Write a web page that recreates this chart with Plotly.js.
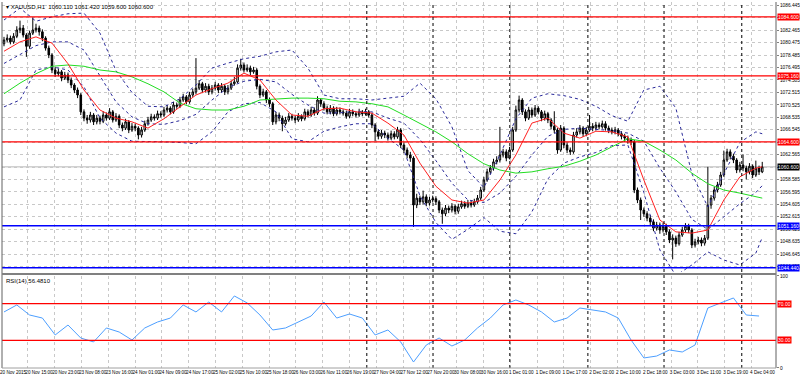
<!DOCTYPE html>
<html><head><meta charset="utf-8">
<script src="https://cdn.plot.ly/plotly-3.0.1.min.js"></script>
<style>html,body{margin:0;padding:0;background:#fff;}#chart{width:800px;height:376px;}</style>
</head><body><div id="chart"></div>
<script>
const chartTitle = "\u25BE XAUUSD,H1  1060.110 1061.420 1059.600 1060.600";
const rsiTitle = "RSI(14) 56.4810";

const timeLabels = ["20 Nov 2015","20 Nov 15:00","20 Nov 23:00","23 Nov 08:00","23 Nov 16:00","24 Nov 01:00","24 Nov 09:00","24 Nov 17:00","25 Nov 02:00","25 Nov 10:00","25 Nov 18:00","26 Nov 03:00","26 Nov 11:00","26 Nov 19:00","27 Nov 04:00","27 Nov 12:00","27 Nov 20:00","30 Nov 08:00","30 Nov 16:00","1 Dec 01:00","1 Dec 09:00","1 Dec 17:00","2 Dec 02:00","2 Dec 10:00","2 Dec 18:00","3 Dec 03:00","3 Dec 11:00","3 Dec 19:00","4 Dec 04:00"];

const priceTicks = [1086.445,1084.455,1082.465,1080.475,1078.485,1076.495,1074.505,1072.515,1070.525,1068.535,1066.545,1064.555,1062.565,1060.575,1058.585,1056.595,1054.605,1052.615,1050.625,1048.635,1046.645,1044.655];

const redLevels = [1084.60, 1075.16, 1064.60];
const blueLevels = [1051.16, 1044.44];
const rsiLevels = [70, 30];

const open = [1080.3,1080.9,1081.2,1080.6,1081.5,1082.5,1082.8,1081.7,1079.9,1082.0,
1082.5,1082.8,1082.2,1081.2,1079.6,1078.5,1076.1,1075.5,1075.8,1074.8,
1075.3,1074.5,1073.7,1072.9,1072.1,1069.4,1068.4,1068.1,1068.9,1067.8,
1068.4,1067.9,1068.9,1068.4,1069.4,1068.1,1068.7,1067.3,1066.8,1067.8,
1066.5,1067.1,1066.8,1065.7,1066.5,1067.5,1068.1,1068.6,1068.4,1069.1,
1068.9,1069.7,1070.0,1069.4,1070.5,1070.3,1071.3,1071.8,1071.0,1072.1,
1072.6,1073.2,1073.9,1072.9,1073.5,1072.6,1073.2,1073.7,1072.9,1073.5,
1072.6,1073.2,1073.9,1074.2,1076.4,1076.9,1076.1,1076.4,1075.8,1076.1,
1073.5,1072.1,1072.6,1071.3,1070.7,1067.8,1068.9,1068.4,1067.5,1068.1,
1068.7,1068.4,1068.1,1068.7,1068.3,1069.4,1068.9,1069.7,1069.2,1071.3,
1070.7,1070.0,1069.4,1070.0,1069.1,1069.7,1069.4,1069.2,1068.7,1069.4,
1069.1,1068.9,1069.4,1069.1,1069.4,1068.9,1067.3,1066.2,1065.5,1066.0,
1065.7,1065.2,1065.9,1065.4,1066.5,1064.1,1063.3,1062.5,1062.0,1054.5,
1055.6,1055.0,1055.8,1054.8,1055.3,1055.5,1055.0,1053.7,1053.1,1054.0,
1053.7,1054.3,1053.5,1054.2,1054.7,1054.3,1054.8,1054.5,1055.0,1055.6,
1056.9,1058.5,1059.8,1060.4,1061.4,1061.7,1062.5,1063.0,1062.0,1063.3,
1066.5,1069.7,1071.3,1069.4,1068.4,1069.7,1068.9,1070.0,1069.4,1068.4,
1069.1,1068.1,1067.1,1066.5,1063.3,1066.8,1064.1,1063.3,1063.0,1065.7,
1066.2,1066.8,1065.9,1066.5,1067.1,1066.8,1067.3,1067.0,1067.5,1066.8,
1066.5,1066.2,1066.5,1065.9,1065.5,1065.2,1064.9,1064.6,1056.9,1055.3,
1053.7,1053.1,1052.4,1051.8,1050.8,1051.3,1050.5,1051.1,1050.2,1048.9,
1049.2,1048.3,1049.7,1050.5,1051.1,1050.5,1048.1,1048.6,1048.9,1048.4,
1049.2,1054.5,1055.6,1056.9,1057.7,1059.3,1061.7,1063.0,1062.3,1061.7,
1060.1,1060.9,1060.4,1059.8,1060.7,1059.3,1060.4,1059.8];

const high = [1081.4,1081.8,1081.6,1082.0,1083.1,1084.0,1083.3,1082.0,1082.4,1084.5,
1083.5,1083.2,1082.6,1081.5,1080.0,1078.8,1076.6,1076.3,1076.1,1075.8,
1075.7,1074.9,1074.0,1073.3,1072.4,1069.8,1068.9,1069.4,1069.2,1068.9,
1068.8,1069.5,1069.3,1070.0,1069.7,1069.2,1069.0,1067.7,1068.3,1068.1,
1067.6,1067.5,1067.1,1067.0,1068.0,1068.6,1069.1,1069.0,1069.6,1069.5,
1070.2,1070.5,1070.3,1071.0,1070.9,1071.8,1072.3,1072.1,1072.6,1073.1,
1078.0,1074.5,1074.2,1074.0,1073.9,1073.7,1074.2,1074.0,1074.0,1073.8,
1073.7,1074.4,1075.0,1077.0,1077.9,1077.3,1077.0,1076.8,1076.6,1076.4,
1073.8,1073.1,1072.9,1071.7,1071.0,1069.4,1069.3,1068.8,1068.6,1069.2,
1069.1,1068.8,1069.2,1069.0,1069.9,1069.8,1070.2,1070.1,1071.9,1071.6,
1071.1,1070.4,1070.5,1070.3,1070.2,1070.1,1069.8,1069.6,1069.9,1069.8,
1069.5,1069.9,1069.7,1069.9,1069.7,1069.2,1067.6,1066.6,1066.5,1066.4,
1066.1,1066.4,1066.3,1067.0,1066.8,1064.5,1063.7,1063.0,1062.3,1056.3,
1056.0,1056.8,1056.2,1055.8,1056.0,1055.9,1055.3,1054.1,1054.5,1054.4,
1054.8,1054.6,1054.7,1055.2,1055.1,1055.3,1055.2,1055.5,1056.1,1057.4,
1059.0,1060.3,1060.9,1061.9,1062.3,1067.0,1063.5,1063.4,1063.8,1067.0,
1070.4,1072.0,1071.6,1069.8,1070.2,1070.1,1070.5,1070.3,1069.7,1069.6,
1069.4,1068.4,1069.5,1066.8,1067.3,1067.1,1064.5,1063.7,1066.2,1066.8,
1067.3,1067.1,1067.0,1068.9,1067.6,1067.8,1067.7,1068.0,1067.9,1067.2,
1066.9,1067.0,1066.8,1066.3,1065.9,1065.6,1065.3,1064.9,1057.3,1055.7,
1054.1,1053.5,1052.9,1052.2,1051.8,1051.7,1051.6,1051.5,1050.6,1049.8,
1049.6,1050.2,1051.0,1051.6,1051.5,1050.8,1049.1,1049.4,1049.3,1049.7,
1060.6,1056.1,1057.4,1058.2,1059.8,1063.2,1063.5,1063.4,1062.7,1062.0,
1061.4,1062.6,1060.8,1061.2,1061.0,1061.6,1060.8,1061.4];

const low = [1079.9,1080.5,1080.2,1080.3,1081.2,1082.0,1081.3,1078.2,1079.5,1081.7,
1082.1,1081.6,1080.7,1079.2,1078.0,1075.6,1075.0,1075.1,1074.3,1074.5,
1074.0,1073.2,1072.4,1071.6,1068.9,1067.9,1067.5,1067.7,1067.3,1067.4,
1067.4,1067.6,1068.0,1068.1,1067.7,1067.8,1066.8,1066.3,1066.5,1066.0,
1066.2,1066.3,1065.0,1065.3,1066.2,1067.2,1067.8,1068.0,1068.1,1068.5,
1068.6,1069.3,1069.0,1069.1,1069.9,1070.0,1071.0,1070.6,1070.7,1071.8,
1072.2,1072.9,1072.4,1072.5,1072.1,1072.2,1072.8,1072.4,1072.5,1072.1,
1072.2,1072.9,1073.6,1074.0,1076.0,1075.7,1075.8,1075.3,1075.5,1073.0,
1071.6,1071.8,1070.8,1070.2,1067.3,1067.4,1067.9,1066.3,1067.2,1067.8,
1068.0,1067.6,1067.8,1067.9,1068.0,1068.5,1068.6,1068.8,1068.9,1070.2,
1069.6,1069.0,1069.0,1068.7,1068.8,1069.0,1068.8,1068.3,1068.4,1068.7,
1068.5,1068.6,1068.7,1068.8,1068.5,1066.8,1064.7,1065.0,1065.1,1065.2,
1064.8,1064.9,1065.0,1065.1,1063.6,1062.8,1062.0,1061.4,1051.0,1054.0,
1054.5,1054.6,1054.3,1054.4,1054.9,1054.5,1053.2,1051.5,1052.7,1053.2,
1053.3,1053.0,1053.1,1053.9,1053.9,1054.0,1054.1,1054.2,1054.7,1055.3,
1056.6,1058.2,1059.4,1060.0,1061.0,1061.3,1062.1,1061.5,1061.8,1063.0,
1066.2,1069.3,1068.9,1067.9,1068.1,1068.5,1068.6,1069.0,1067.9,1068.0,
1067.6,1066.6,1066.0,1062.7,1063.0,1063.6,1062.8,1062.5,1062.7,1065.3,
1065.8,1065.4,1065.5,1066.2,1066.3,1066.4,1066.6,1066.7,1066.4,1066.0,
1065.8,1065.8,1065.5,1065.0,1064.6,1064.3,1064.1,1056.4,1054.8,1052.1,
1052.6,1051.9,1051.2,1050.3,1050.4,1049.9,1050.1,1049.7,1048.4,1045.8,
1047.8,1048.0,1049.4,1050.1,1050.0,1047.6,1047.7,1048.2,1047.9,1048.0,
1048.9,1053.9,1055.2,1056.5,1057.4,1059.0,1061.4,1061.8,1061.2,1059.6,
1059.7,1059.9,1058.6,1059.4,1058.8,1059.0,1059.3,1059.6];

const close = [1080.9,1081.2,1080.6,1081.5,1082.5,1082.8,1081.7,1079.9,1082.0,1082.5,
1082.8,1082.2,1081.2,1079.6,1078.5,1076.1,1075.5,1075.8,1074.8,1075.3,
1074.5,1073.7,1072.9,1072.1,1069.4,1068.4,1068.1,1068.9,1067.8,1068.4,
1067.9,1068.9,1068.4,1069.4,1068.1,1068.7,1067.3,1066.8,1067.8,1066.5,
1067.1,1066.8,1065.7,1066.5,1067.5,1068.1,1068.6,1068.4,1069.1,1068.9,
1069.7,1070.0,1069.4,1070.5,1070.3,1071.3,1071.8,1071.0,1072.1,1072.6,
1073.2,1073.9,1072.9,1073.5,1072.6,1073.2,1073.7,1072.9,1073.5,1072.6,
1073.2,1073.9,1074.2,1076.4,1076.9,1076.1,1076.4,1075.8,1076.1,1073.5,
1072.1,1072.6,1071.3,1070.7,1067.8,1068.9,1068.4,1067.5,1068.1,1068.7,
1068.4,1068.1,1068.7,1068.3,1069.4,1068.9,1069.7,1069.2,1071.3,1070.7,
1070.0,1069.4,1070.0,1069.1,1069.7,1069.4,1069.2,1068.7,1069.4,1069.1,
1068.9,1069.4,1069.1,1069.4,1068.9,1067.3,1066.2,1065.5,1066.0,1065.7,
1065.2,1065.9,1065.4,1066.5,1064.1,1063.3,1062.5,1062.0,1054.5,1055.6,
1055.0,1055.8,1054.8,1055.3,1055.5,1055.0,1053.7,1053.1,1054.0,1053.7,
1054.3,1053.5,1054.2,1054.7,1054.3,1054.8,1054.5,1055.0,1055.6,1056.9,
1058.5,1059.8,1060.4,1061.4,1061.7,1062.5,1063.0,1062.0,1063.3,1066.5,
1069.7,1071.3,1069.4,1068.4,1069.7,1068.9,1070.0,1069.4,1068.4,1069.1,
1068.1,1067.1,1066.5,1063.3,1066.8,1064.1,1063.3,1063.0,1065.7,1066.2,
1066.8,1065.9,1066.5,1067.1,1066.8,1067.3,1067.0,1067.5,1066.8,1066.5,
1066.2,1066.5,1065.9,1065.5,1065.2,1064.9,1064.6,1056.9,1055.3,1053.7,
1053.1,1052.4,1051.8,1050.8,1051.3,1050.5,1051.1,1050.2,1048.9,1049.2,
1048.3,1049.7,1050.5,1051.1,1050.5,1048.1,1048.6,1048.9,1048.4,1049.2,
1054.5,1055.6,1056.9,1057.7,1059.3,1061.7,1063.0,1062.3,1061.7,1060.1,
1060.9,1060.4,1059.8,1060.7,1059.3,1060.4,1059.8,1060.6];

// indicator readings, sampled every 5 bars (last one at the final bar)
const bbUpper = [1084.1,1086.0,1083.9,1084.6,1085.1,1085.2,1082.0,1076.0,1072.5,1070.3,1070.2,1071.5,1073.7,1076.4,1077.2,1077.9,1078.3,1079.0,1079.3,1076.4,1072.1,1071.5,1071.5,1071.3,1071.6,1071.9,1074.0,1071.5,1067.0,1060.0,1057.3,1062.5,1068.3,1071.6,1072.3,1072.0,1071.4,1070.3,1068.8,1067.9,1072.9,1073.5,1070.0,1059.5,1054.2,1059.5,1064.5,1066.2,1065.9];
const bbMiddle = [1077.15,1078.6,1080.0,1080.6,1080.6,1079.3,1075.2,1071.0,1068.6,1067.5,1067.4,1068.0,1069.0,1071.3,1073.3,1074.3,1074.6,1074.2,1072.2,1070.5,1069.2,1069.25,1069.5,1069.4,1068.4,1067.6,1065.0,1061.6,1058.0,1055.3,1054.9,1056.4,1059.1,1062.5,1065.5,1066.6,1066.8,1066.6,1066.4,1066.0,1064.7,1060.4,1056.6,1052.2,1050.6,1052.6,1054.7,1056.5,1057.6];
const bbLower = [1070.2,1071.3,1076.1,1076.6,1076.1,1073.4,1068.4,1066.0,1064.7,1064.7,1064.6,1064.5,1064.3,1066.2,1069.4,1070.7,1070.9,1069.4,1065.1,1064.6,1066.3,1067.0,1067.5,1067.5,1065.2,1063.3,1056.0,1051.7,1049.0,1050.6,1052.5,1050.3,1049.9,1053.4,1058.7,1061.2,1062.2,1062.9,1064.0,1064.1,1056.5,1047.3,1043.2,1044.9,1047.0,1045.7,1044.9,1046.8,1049.3];
const maFast = [1079.1,1080.6,1081.4,1080.4,1077.1,1072.9,1069.7,1068.4,1067.8,1066.8,1068.3,1070.2,1072.1,1073.1,1074.0,1075.6,1074.5,1071.3,1068.9,1068.7,1069.9,1070.0,1069.4,1069.2,1067.6,1065.7,1061.2,1057.5,1055.3,1054.8,1055.3,1058.5,1062.5,1067.6,1068.4,1066.0,1065.2,1066.3,1066.2,1065.4,1058.5,1052.1,1050.2,1050.0,1050.5,1055.3,1059.0,1060.4,1060.6];
const maSlow = [1072.3,1074.0,1075.5,1076.7,1076.9,1076.7,1076.1,1075.8,1075.0,1073.9,1072.6,1070.8,1069.9,1069.7,1069.7,1070.3,1071.3,1071.5,1071.6,1071.6,1071.5,1071.1,1071.0,1070.7,1070.2,1068.9,1067.6,1066.2,1064.6,1062.7,1061.1,1060.1,1059.6,1059.8,1060.3,1060.7,1061.5,1062.5,1063.8,1065.1,1064.7,1063.3,1061.7,1059.6,1057.9,1056.9,1056.4,1055.9,1055.6];

// RSI readings, sampled every 4 bars
const rsi = [60.9,68.5,57.6,54.3,35.9,46.7,32.6,28.3,43.5,39.1,30.4,43.5,50.0,54.3,68.5,60.9,71.7,60.9,78.3,70.7,57.6,41.3,43.5,50.0,56.5,71.7,54.3,58.7,54.3,35.9,41.3,28.3,6.5,25.0,32.6,23.9,30.4,43.5,54.3,68.5,73.9,68.5,60.9,50.0,54.3,65.2,63.0,60.9,54.3,30.4,10.9,13.0,19.6,17.4,25.0,65.2,70.7,76.1,57.6,56.5];

const barX = close.map((_, i) => i);
const bandX = bbUpper.map((_, k) => (k < bbUpper.length - 1 ? 5 * k : close.length - 1));
const rsiX = rsi.map((_, k) => 4 * k);
const lastPrice = close[close.length - 1];

const tickPos = timeLabels.map((_, k) => (k === 0 ? -0.6 : 7.5 + 8.375 * (k - 1)));
const dayBreaks = [113.4, 134.1, 158.1, 182.5, 206.3, 230.6];

const FONT = 'Liberation Sans Narrow, Arial Narrow, Liberation Sans, sans-serif';
const bandStyle = {color: '#2a2a9a', width: 1, dash: 'dot'};

const traces = [
  {type: 'scatter', mode: 'lines', x: bandX, y: bbUpper, line: bandStyle, xaxis: 'x', yaxis: 'y', hoverinfo: 'skip'},
  {type: 'scatter', mode: 'lines', x: bandX, y: bbMiddle, line: bandStyle, xaxis: 'x', yaxis: 'y', hoverinfo: 'skip'},
  {type: 'scatter', mode: 'lines', x: bandX, y: bbLower, line: bandStyle, xaxis: 'x', yaxis: 'y', hoverinfo: 'skip'},
  {type: 'scatter', mode: 'lines', x: bandX, y: maSlow, line: {color: '#22dd22', width: 1}, xaxis: 'x', yaxis: 'y', hoverinfo: 'skip'},
  {type: 'scatter', mode: 'lines', x: bandX, y: maFast, line: {color: '#ff2020', width: 1}, xaxis: 'x', yaxis: 'y', hoverinfo: 'skip'},
  {type: 'candlestick', x: barX, open: open, high: high, low: low, close: close, xaxis: 'x', yaxis: 'y',
   whiskerwidth: 0,
   increasing: {line: {color: '#000000', width: 1}, fillcolor: '#ffffff'},
   decreasing: {line: {color: '#000000', width: 1}, fillcolor: '#000000'}, hoverinfo: 'skip'},
  {type: 'scatter', mode: 'lines', x: rsiX, y: rsi, line: {color: '#4d9fff', width: 1}, xaxis: 'x2', yaxis: 'y2', hoverinfo: 'skip'}
];

const shapes = [];
const annotations = [];
const boxFont = {family: FONT, size: 5, color: '#ffffff'};
function sideBox(yref, v, txt, bg) {
  annotations.push({xref: 'paper', x: 1, xanchor: 'left', xshift: 1, yref: yref, y: v, yanchor: 'middle',
    text: txt, showarrow: false, bgcolor: bg, borderpad: 0, font: boxFont});
}
shapes.push({type: 'line', xref: 'paper', x0: 0, x1: 1, yref: 'y', y0: lastPrice, y1: lastPrice, line: {color: '#b8b8b8', width: 1}, layer: 'below'});
redLevels.forEach(v => {
  shapes.push({type: 'line', xref: 'paper', x0: 0, x1: 1, yref: 'y', y0: v, y1: v, line: {color: '#ff0000', width: 1.3}});
  sideBox('y', v, v.toFixed(3), '#ff0000');
});
blueLevels.forEach(v => {
  shapes.push({type: 'line', xref: 'paper', x0: 0, x1: 1, yref: 'y', y0: v, y1: v, line: {color: '#0000ff', width: 1.5}});
  sideBox('y', v, v.toFixed(3), '#0000ff');
});
sideBox('y', lastPrice, lastPrice.toFixed(3), '#000000');
rsiLevels.forEach(v => {
  shapes.push({type: 'line', xref: 'paper', x0: 0, x1: 1, yref: 'y2', y0: v, y1: v, line: {color: '#ff0000', width: 1.3}});
  sideBox('y2', v, v.toFixed(2), '#ff0000');
});
dayBreaks.forEach(p => {
  shapes.push({type: 'line', xref: 'x', x0: p, x1: p, yref: 'paper', y0: 0, y1: 1, line: {color: '#000000', width: 1, dash: 'dot'}});
});
shapes.push({type: 'line', xref: 'paper', x0: 0, x1: 0, yref: 'paper', y0: 0, y1: 1, line: {color: '#606060', width: 1}});
shapes.push({type: 'line', xref: 'paper', x0: 1, x1: 1, yref: 'paper', y0: 0, y1: 1, line: {color: '#606060', width: 1}});
shapes.push({type: 'line', xref: 'paper', x0: 0, x1: 1, yref: 'paper', y0: 0.2568, y1: 0.2568, line: {color: '#808080', width: 2}});
shapes.push({type: 'line', xref: 'paper', x0: 0, x1: 1, yref: 'paper', y0: 0, y1: 0, line: {color: '#a0a0a0', width: 1}});

annotations.push({xref: 'paper', x: 0, xanchor: 'left', xshift: 2, yref: 'paper', y: 1, yanchor: 'top', text: chartTitle, showarrow: false, font: {family: FONT, size: 6, color: '#000'}});
annotations.push({xref: 'paper', x: 0, xanchor: 'left', xshift: 2, yref: 'paper', y: 0.2514, yanchor: 'top', text: rsiTitle, showarrow: false, font: {family: FONT, size: 6, color: '#000'}});

const xCommon = {range: [-0.625, 241.3], tickvals: tickPos, zeroline: false, showline: false,
  showgrid: true, gridcolor: '#c8c8c8', griddash: 'dot', gridwidth: 1, fixedrange: true};

const layout = {
  width: 800, height: 376,
  margin: {l: 2, r: 24, t: 2, b: 8},
  paper_bgcolor: '#ffffff', plot_bgcolor: '#ffffff',
  showlegend: false, hovermode: false,
  font: {family: FONT, size: 5, color: '#000'},
  xaxis: Object.assign({}, xCommon, {anchor: 'y', showticklabels: false, ticks: '', rangeslider: {visible: false}}),
  xaxis2: Object.assign({}, xCommon, {anchor: 'y2', ticktext: timeLabels, showticklabels: true, ticks: '',
    ticklabelshift: 11, ticklabelstandoff: 0, tickfont: {family: FONT, size: 4.6, color: '#000'}, tickangle: 0}),
  yaxis: {domain: [0.2623, 1], range: [1043.78, 1086.98], side: 'right', tickvals: priceTicks,
    ticktext: priceTicks.map(v => v.toFixed(3)), tickfont: {family: FONT, size: 4.8, color: '#000'},
    showgrid: true, gridcolor: '#c8c8c8', griddash: 'dot', zeroline: false, ticks: 'outside', ticklen: 2, tickcolor: '#808080', fixedrange: true},
  yaxis2: {domain: [0, 0.2514], range: [0, 100], side: 'right', tickvals: [0, 100], ticktext: ['0', '100'],
    tickfont: {family: FONT, size: 4.8, color: '#000'}, showgrid: false, zeroline: false, ticks: 'outside', ticklen: 2, tickcolor: '#808080', fixedrange: true},
  shapes: shapes,
  annotations: annotations
};

Plotly.newPlot('chart', traces, layout, {staticPlot: true, displayModeBar: false});
</script>
</body></html>
